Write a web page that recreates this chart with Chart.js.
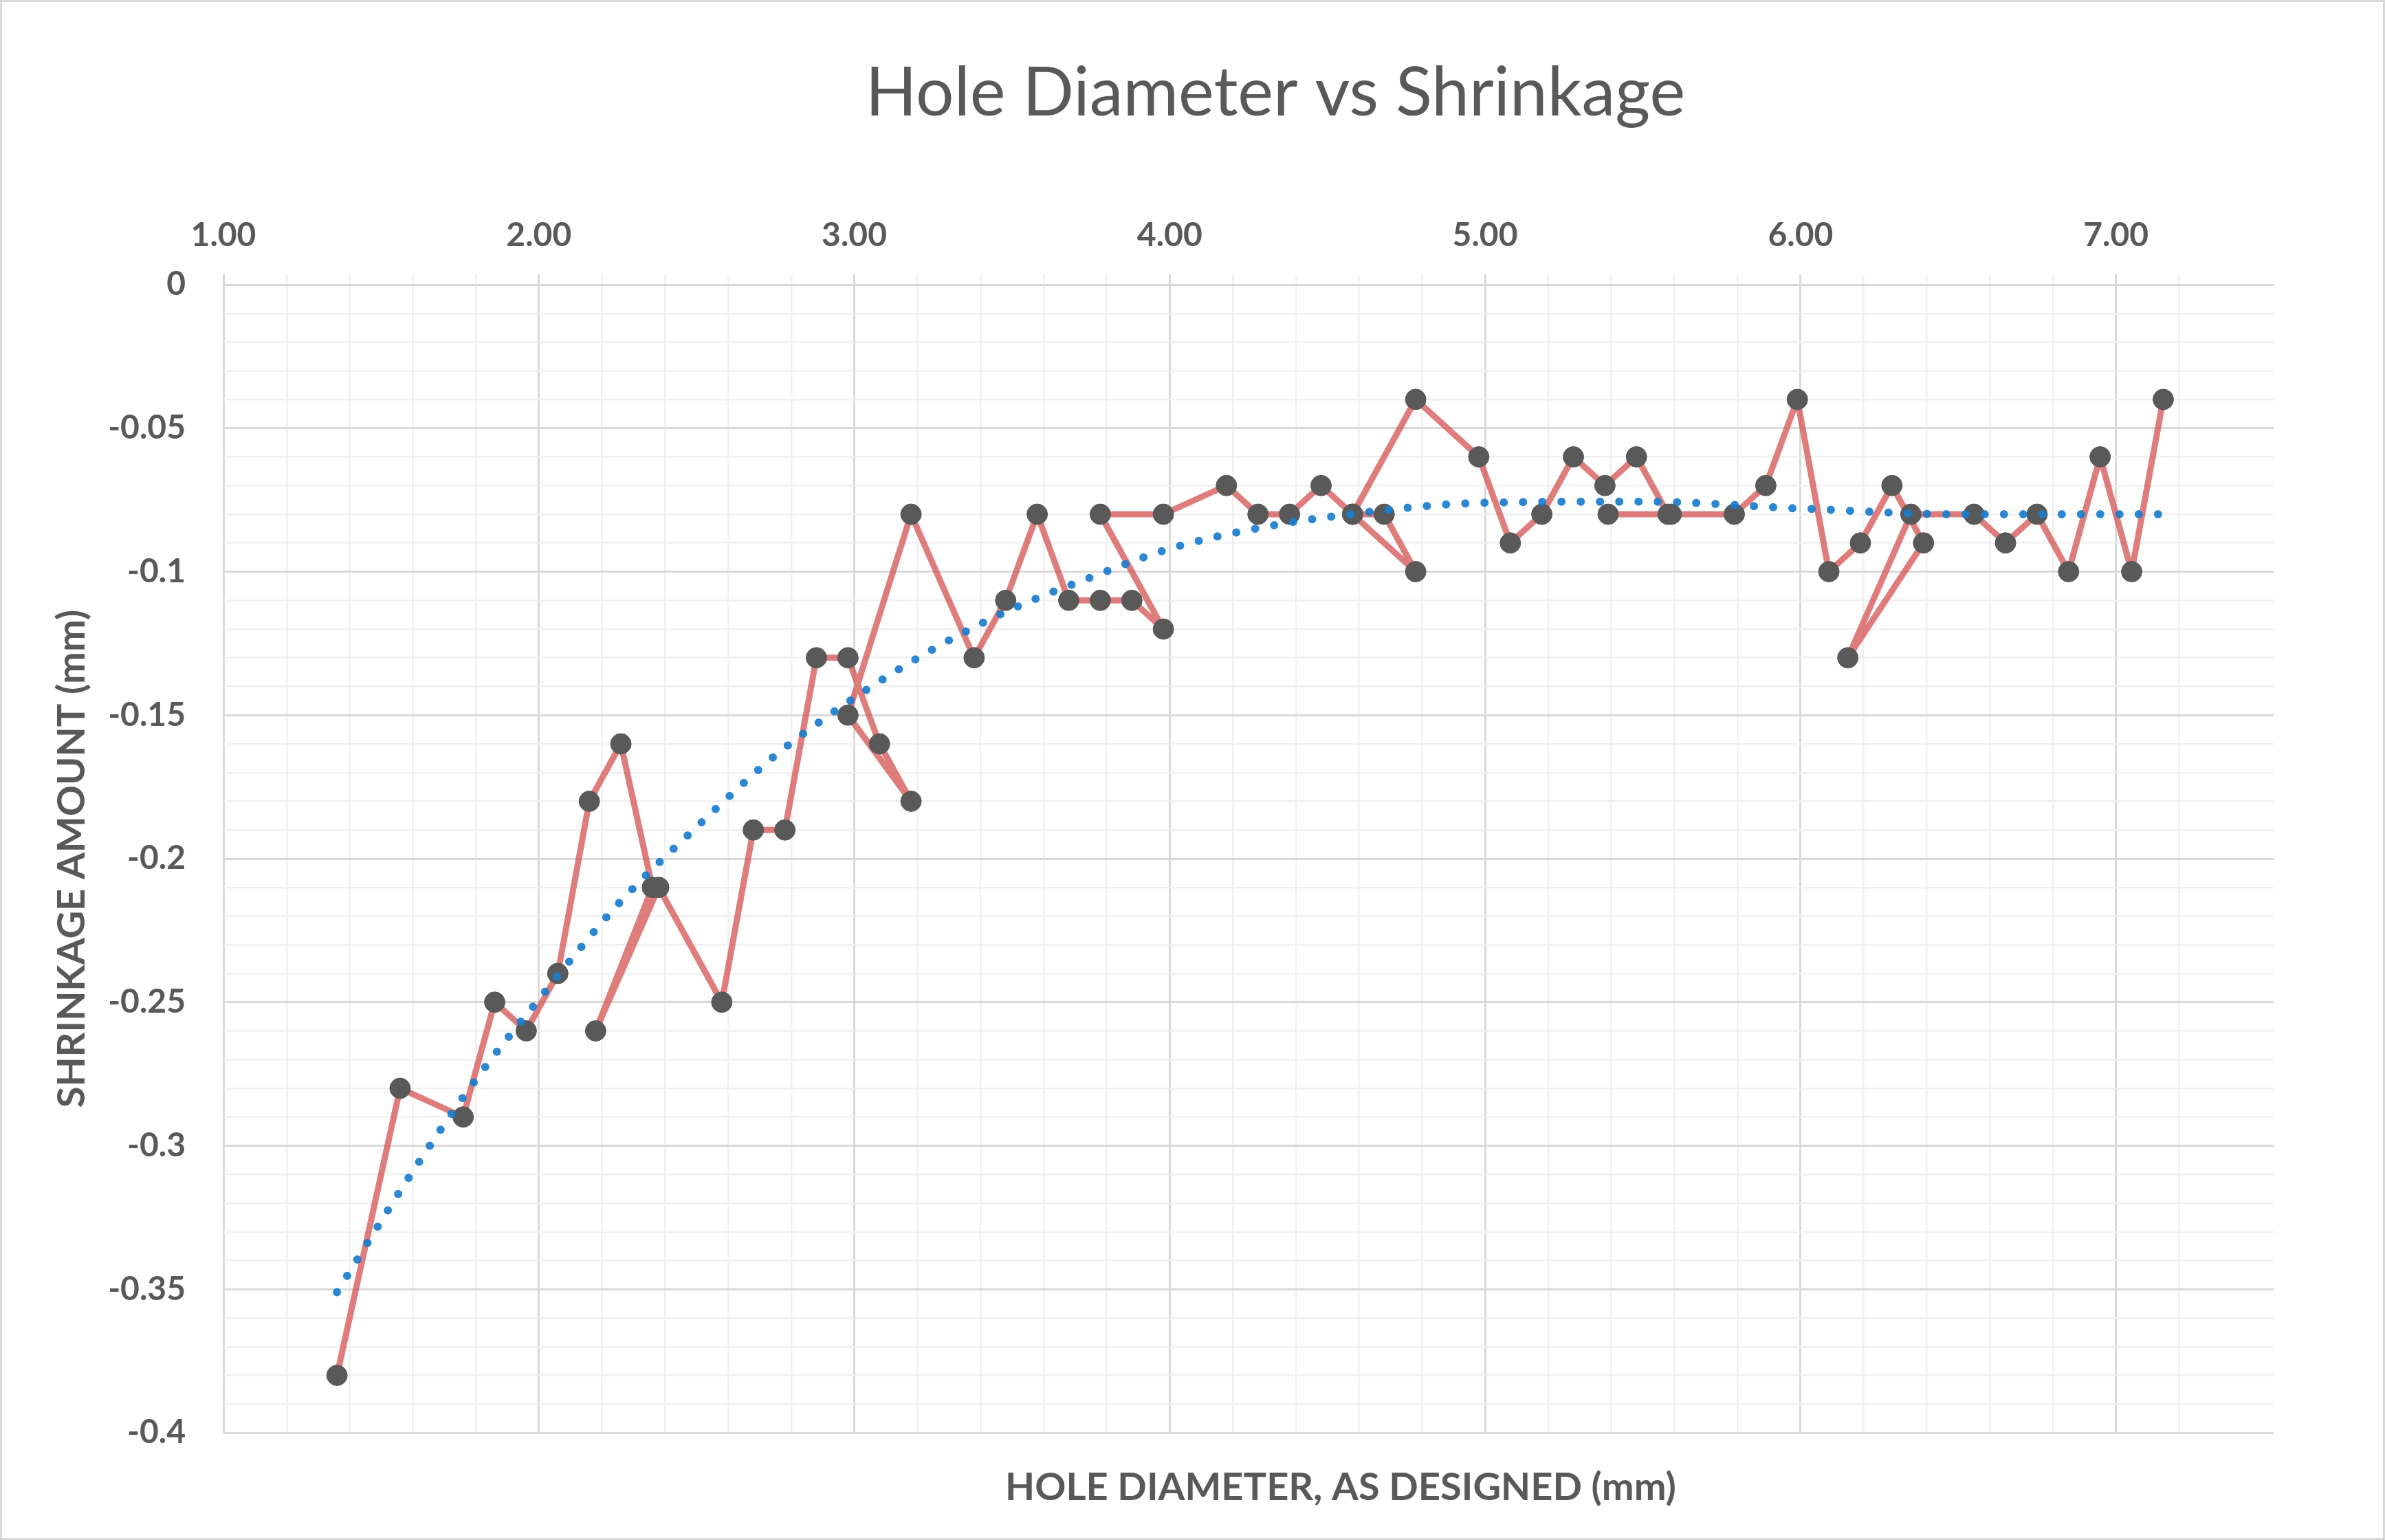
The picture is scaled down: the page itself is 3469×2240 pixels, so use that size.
<!DOCTYPE html>
<html>
<head>
<meta charset="utf-8">
<title>Hole Diameter vs Shrinkage</title>
<script src="https://cdn.jsdelivr.net/npm/chart.js@4.4.1/dist/chart.umd.min.js"></script>
<style>
    html, body { margin: 0; padding: 0; background: #fff; }
    #wrap { width: 3469px; height: 2240px; }
</style>
</head>
<body>
<div id="wrap"><canvas id="shrinkChart" width="3469" height="2240"></canvas></div>
<script>
// measured holes, in the order the line visits them
const holeDiameter = [
    1.36, 1.56, 1.76, 1.86, 1.96, 2.06, 2.16, 2.26, 2.36, 2.18,
    2.38, 2.58, 2.68, 2.78, 2.88, 2.98, 3.08, 3.18, 2.98, 3.18,
    3.38, 3.48, 3.58, 3.68, 3.78, 3.88, 3.98, 3.78, 3.98, 4.18,
    4.28, 4.38, 4.48, 4.58, 4.68, 4.78, 4.58, 4.78, 4.98, 5.08,
    5.18, 5.28, 5.38, 5.48, 5.58, 5.39, 5.59, 5.79, 5.89, 5.99,
    6.09, 6.19, 6.29, 6.39, 6.15, 6.35, 6.55, 6.65, 6.75, 6.85,
    6.95, 7.05, 7.15
];
const shrinkage = [
    -0.38, -0.28, -0.29, -0.25, -0.26, -0.24, -0.18, -0.16, -0.21, -0.26,
    -0.21, -0.25, -0.19, -0.19, -0.13, -0.13, -0.16, -0.18, -0.15, -0.08,
    -0.13, -0.11, -0.08, -0.11, -0.11, -0.11, -0.12, -0.08, -0.08, -0.07,
    -0.08, -0.08, -0.07, -0.08, -0.08, -0.10, -0.08, -0.04, -0.06, -0.09,
    -0.08, -0.06, -0.07, -0.06, -0.08, -0.08, -0.08, -0.08, -0.07, -0.04,
    -0.10, -0.09, -0.07, -0.09, -0.13, -0.08, -0.08, -0.09, -0.08, -0.10,
    -0.06, -0.10, -0.04
];

// dotted trendline
const trendDiameter = [1.36, 1.6, 1.8, 2.0, 2.25, 2.5, 2.75, 3.0, 3.25, 3.5, 3.75, 4.0, 4.25, 4.5, 5.0, 5.5, 6.0, 6.5, 7.15];
const trendShrinkage = [-0.351, -0.309, -0.277, -0.249, -0.216, -0.189, -0.164, -0.144, -0.127, -0.113, -0.102, -0.092, -0.0855, -0.081, -0.076, -0.0756, -0.078, -0.080, -0.080];

const chartTitle = 'Hole Diameter vs Shrinkage';
const xAxisTitle = 'HOLE DIAMETER, AS DESIGNED (mm)';
const yAxisTitle = 'SHRINKAGE AMOUNT (mm)';

const TEXT = '#595959';
const MAJOR_GRID = '#D9D9D9';
const MINOR_GRID = '#F0F0F0';

document.addEventListener('DOMContentLoaded', () => {
    Chart.defaults.font.family = "'Lato', sans-serif";
    Chart.defaults.color = TEXT;

    const onStep = (v, step) => Math.abs(v / step - Math.round(v / step)) < 1e-6;

    // white card, thin frame, chart title and bottom axis title
    const frameAndTitles = {
        id: 'frameAndTitles',
        beforeDraw(chart) {
            const { ctx, width, height } = chart;
            ctx.save();
            ctx.fillStyle = '#fff';
            ctx.fillRect(0, 0, width, height);
            ctx.strokeStyle = MAJOR_GRID;
            ctx.lineWidth = 3;
            ctx.strokeRect(1.5, 1.5, width - 3, height - 3);
            ctx.restore();
        },
        afterDraw(chart) {
            const { ctx, chartArea } = chart;
            ctx.save();
            ctx.fillStyle = TEXT;
            ctx.textAlign = 'center';
            ctx.textBaseline = 'alphabetic';
            ctx.font = "98px 'Lato', sans-serif";
            ctx.fillText(chartTitle, chartArea.left + 1530, 168);
            ctx.font = "bold 56px 'Lato', sans-serif";
            ctx.fillText(xAxisTitle, chartArea.left + 1625, chartArea.bottom + 98);
            ctx.restore();
        }
    };

    const ctx = document.getElementById('shrinkChart').getContext('2d');
    new Chart(ctx, {
        type: 'scatter',
        data: {
            datasets: [
                {
                    label: 'Trend',
                    data: trendDiameter.map((x, i) => ({ x, y: trendShrinkage[i] })),
                    showLine: true,
                    borderColor: 'rgba(25, 125, 205, 0.92)',
                    borderWidth: 12,
                    borderDash: [0, 28],
                    borderCapStyle: 'round',
                    cubicInterpolationMode: 'monotone',
                    pointRadius: 0,
                    order: 0
                },
                {
                    label: 'Shrinkage',
                    data: holeDiameter.map((x, i) => ({ x, y: shrinkage[i] })),
                    showLine: true,
                    borderColor: 'rgba(210, 75, 75, 0.72)',
                    borderWidth: 9,
                    borderJoinStyle: 'round',
                    tension: 0,
                    pointRadius: 15,
                    pointBackgroundColor: '#595959',
                    pointBorderColor: '#595959',
                    pointBorderWidth: 1,
                    order: 1
                }
            ]
        },
        options: {
            responsive: false,
            devicePixelRatio: 1,
            animation: false,
            layout: { padding: { left: 0, top: 0, right: 162, bottom: 156 } },
            plugins: {
                legend: { display: false },
                tooltip: { enabled: false }
            },
            scales: {
                x: {
                    type: 'linear',
                    position: 'top',
                    min: 1,
                    max: 7.5,
                    afterFit: s => { s.height = 414; },
                    ticks: {
                        stepSize: 0.2,
                        autoSkip: false,
                        maxRotation: 0,
                        padding: 28,
                        font: { size: 48, weight: 'bold' },
                        callback: v => onStep(v, 1) ? v.toFixed(2) : ''
                    },
                    grid: {
                        color: c => !c.tick || !onStep(c.tick.value, 0.2) ? 'rgba(0,0,0,0)' : (onStep(c.tick.value, 1) ? MAJOR_GRID : MINOR_GRID),
                        lineWidth: c => c.tick && onStep(c.tick.value, 1) ? 3 : 2.5,
                        drawTicks: true,
                        tickLength: 15
                    },
                    border: { display: false }
                },
                y: {
                    type: 'linear',
                    min: -0.4,
                    max: 0,
                    afterFit: s => { s.width = 325; },
                    ticks: {
                        stepSize: 0.01,
                        autoSkip: false,
                        padding: 55,
                        font: { size: 48, weight: 'bold' },
                        callback: v => onStep(v, 0.05) ? String(Number(v.toFixed(2))) : ''
                    },
                    grid: {
                        color: c => c.tick && onStep(c.tick.value, 0.05) ? MAJOR_GRID : MINOR_GRID,
                        lineWidth: c => c.tick && onStep(c.tick.value, 0.05) ? 3 : 2.5,
                        drawTicks: false
                    },
                    border: { display: false },
                    title: {
                        display: true,
                        text: yAxisTitle,
                        color: TEXT,
                        font: { size: 56, weight: 'bold' },
                        padding: { top: 71, bottom: 0 }
                    }
                }
            }
        },
        plugins: [frameAndTitles]
    });
});
</script>
</body>
</html>
